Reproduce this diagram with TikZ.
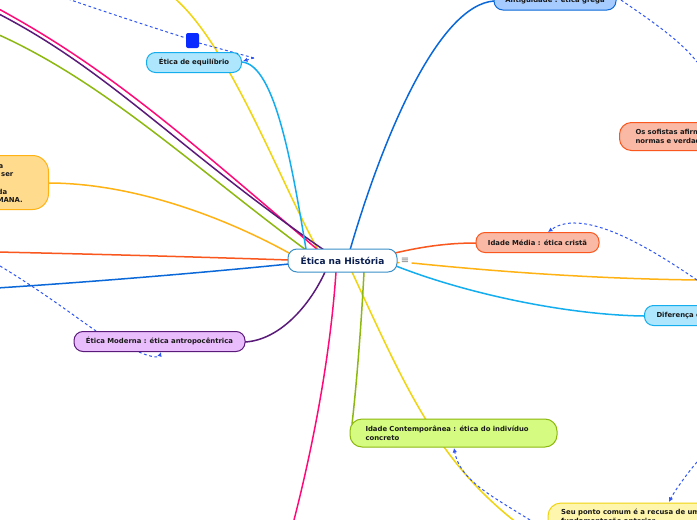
\documentclass[tikz,border=0pt]{standalone}
\usepackage{fontspec}
\setmainfont{DejaVu Sans}
\usetikzlibrary{arrows.meta}
\definecolor{cBlue}{HTML}{0B68D8}
\definecolor{cSky}{HTML}{14AEEF}
\definecolor{cOrange}{HTML}{FFB213}
\definecolor{cRed}{HTML}{F9571E}
\definecolor{cPink}{HTML}{FF0A78}
\definecolor{cPurple}{HTML}{5A1A7A}
\definecolor{cGreen}{HTML}{8DB80F}
\definecolor{cYellow}{HTML}{F0D410}
\definecolor{cDash}{HTML}{2F55F5}
\definecolor{fBlue}{HTML}{A6CCFF}
\definecolor{fSky}{HTML}{AEE6FD}
\definecolor{fOrange}{HTML}{FFDB8E}
\definecolor{fRed}{HTML}{FAB9A5}
\definecolor{fPurple}{HTML}{E9BDFB}
\definecolor{fGreen}{HTML}{D5FC80}
\definecolor{fYellow}{HTML}{FFF6AE}
\definecolor{rootText}{HTML}{0A1F50}
\definecolor{rootLine}{HTML}{3A8FC9}
\definecolor{square}{HTML}{0A2BFF}
\tikzset{
  x=1pt,y=-1pt,
  link/.style={line width=1.5pt,line cap=round},
  reldash/.style={cDash,line width=1pt,dash pattern=on 2.8pt off 2.6pt},
  rel/.style={reldash,-{Latex[length=4.5pt,width=4.5pt]}},
  topic/.style={draw,rounded corners=9pt,line width=1pt,minimum height=20pt,inner sep=0pt,align=left,
    font=\fontsize{6.87}{8.6}\selectfont\bfseries,text=black!90},
  label/.style={inner sep=0pt,font=\fontsize{6.87}{8.6}\selectfont\bfseries,text=black!90},
}
\begin{document}
\begin{tikzpicture}
\useasboundingbox (0,0) rectangle (697,520);
\clip (0,0) rectangle (697,520);
\fill[white] (0,0) rectangle (697,520);

% connectors
\draw[link,cYellow] (172,-4) .. controls (228,42) and (278,177) .. (318,250);
\draw[link,cYellow] (352,272) .. controls (404,384) and (436,460) .. (517,523);
\draw[link,cPink] (-3,8) .. controls (108,68) and (184,136) .. (318,250);
\draw[link,cPurple] (-3,13) .. controls (110,71) and (179,150) .. (324,250);
\draw[link,cGreen] (-3,34) .. controls (104,82) and (194,167) .. (306,250);
\draw[link,cSky] (242,62) .. controls (275,65) and (292,165) .. (306,249);
\draw[link,cOrange] (48,183) .. controls (130,183) and (220,215) .. (289,253);
\draw[link,cRed] (-3,252) .. controls (90,254) and (200,257) .. (289,260);
\draw[link,cBlue] (-3,288) .. controls (90,282) and (200,273) .. (289,264);
\draw[link,cPurple] (245,342) .. controls (280,340) and (310,305) .. (325,272);
\draw[link,cPink] (336,272) .. controls (330,360) and (312,450) .. (294,520);
\draw[link,cBlue] (350,250) .. controls (385,130) and (440,5) .. (494,1);
\draw[link,cRed] (395,253) .. controls (425,246) and (450,243) .. (476,243);
\draw[link,cOrange] (397,262.5) -- (399,262.7);
\draw[link,cOrange] (412,263) .. controls (500,272) and (600,279) .. (700,280);
\draw[link,cSky] (396,266) .. controls (470,295) and (570,315) .. (644,316);
\draw[link,cGreen] (364,272) .. controls (361,330) and (356,390) .. (352,424);

% relationship dashes
\draw[reldash] (68,-1) .. controls (120,17) and (170,33) .. (186,38);
\draw[reldash] (199,43) -- (254,58);
\draw[rel] (254,58) -- (243,61);
\draw[reldash] (0,266) .. controls (40,290) and (80,320) .. (96,331);
\draw[rel] (139,352) .. controls (150,357) and (159,358) .. (161,352);
\draw[reldash] (621,0) .. controls (650,20) and (680,40) .. (697,62);
\draw[rel] (697,280) .. controls (660,255) and (585,205) .. (548,232);
\draw[rel] (697,462) .. controls (690,470) and (675,490) .. (669,502);
\draw[rel] (530,520) .. controls (490,495) and (460,480) .. (454,448);

% nodes
\node[fill=square,rounded corners=2pt,minimum width=13pt,minimum height=15pt,inner sep=0pt] (dot) at (192.5,40.5) {};
\node[topic,fill=fSky,draw=cSky,minimum width=95pt] (equil) at (194,62.5) {Ética de equilíbrio};
\node[topic,fill=fBlue,draw=cBlue,minimum width=122pt] (anti) at (555,0) {Antiguidade : ética grega};
\node[topic,fill=fRed,draw=cRed,minimum width=123pt] (media) at (537.5,242.5) {Idade Média : ética cristã};
\node[topic,fill=fPurple,draw=cPurple,minimum width=171pt] (moderna) at (159.5,341.5) {Ética Moderna : ética antropocêntrica};
\node[topic,fill=fSky,draw=cSky,anchor=west,text width=110pt,inner xsep=12pt] (dif) at (644,315.5) {Diferença entre};
\node[topic,fill=fRed,draw=cRed,minimum height=28pt,rounded corners=12pt,anchor=west,text width=170pt,inner xsep=16pt] (sof) at (619,136.5) {Os sofistas afirmam\\normas e verdades};
\node[topic,fill=fGreen,draw=cGreen,minimum height=28pt,rounded corners=12pt,anchor=west,text width=176pt,inner xsep=15.5pt] (cont) at (349.5,433) {Idade Contemporânea : ética do indivíduo\\concreto};
\node[topic,fill=fYellow,draw=cYellow,minimum width=200pt,minimum height=40pt,rounded corners=13pt,anchor=north west] (seu) at (547.5,502.5) {};
\node[label,anchor=north west,align=left] (seut) at (561,509) {Seu ponto comum é a recusa de um\\fundamentação anterior};
\node[topic,fill=fOrange,draw=cOrange,minimum width=120pt,minimum height=54pt,rounded corners=16pt,anchor=east] (hum) at (49,182.5) {};
\node[label,anchor=east] (huma) at (3.5,166.5) {a};
\node[label,anchor=east] (humb) at (13.5,175) {ser};
\node[label,anchor=east] (humc) at (7.5,191.5) {da};
\node[label,anchor=east] (humd) at (23,200) {MANA.};
\node[topic,fill=white,draw=rootLine,minimum width=109pt,minimum height=23pt,font=\fontsize{9}{11}\selectfont\bfseries,text=rootText,align=center] (root) at (342.5,260.5) {Ética na História};
\node[inner sep=0pt,font=\fontsize{10}{10}\selectfont,text=black!50] (menu) at (405,260.5) {≡};
\end{tikzpicture}
\end{document}
